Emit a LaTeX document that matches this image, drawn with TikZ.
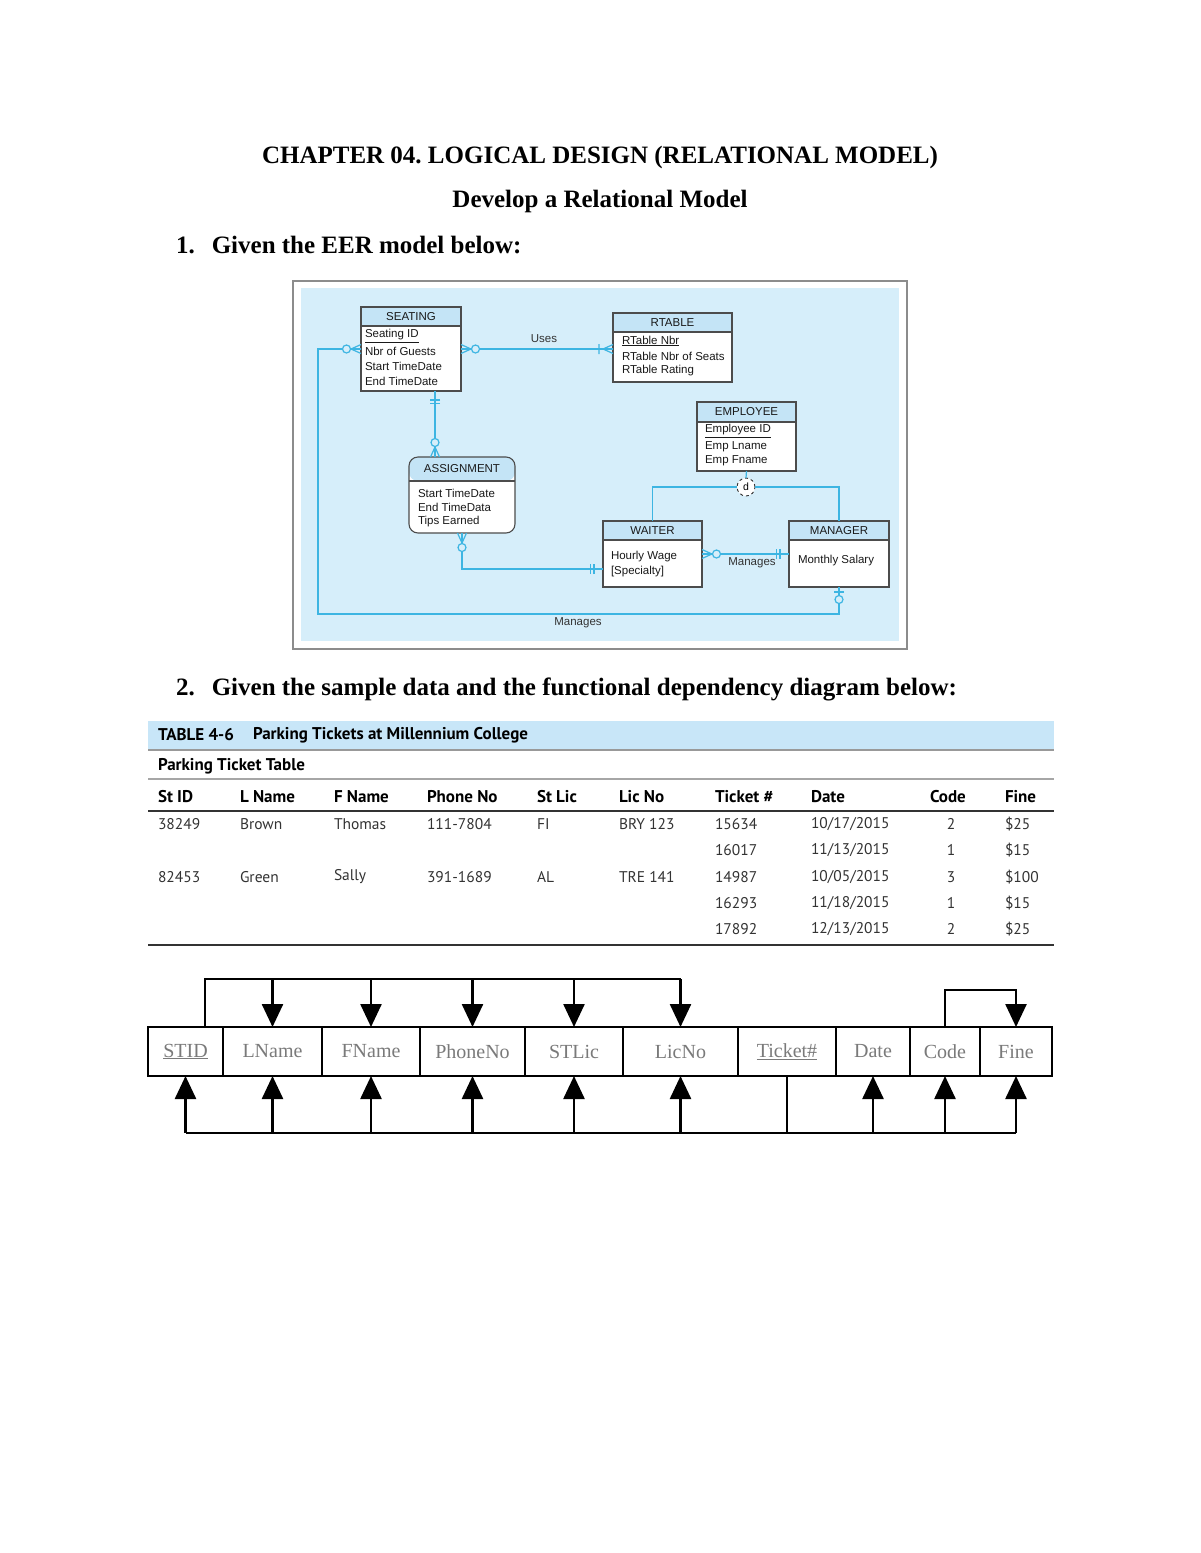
\documentclass[tikz,border=0pt]{standalone}
\usepackage{fontspec}
\setmainfont{Liberation Serif}
\newfontfamily\eerfont{Liberation Sans}
\newfontfamily\tblfont{PT Sans}
\usetikzlibrary{arrows.meta,calc}
\definecolor{eerbg}{HTML}{D6EEFA}
\definecolor{eerhd}{HTML}{C4E4F6}
\definecolor{eerln}{HTML}{3DB5E2}
\definecolor{tblhd}{HTML}{C8E6F8}
\definecolor{fdtxt}{HTML}{7A7A7A}
\frenchspacing
\begin{document}
\begin{tikzpicture}[x=1pt,y=-1pt,
  every node/.style={inner sep=0pt,outer sep=0pt},
  heading/.style={font=\fontsize{25}{30}\selectfont\bfseries},
  entbox/.style={draw=black!70,line width=1.1pt,fill=white,anchor=north west,
    path picture={\fill[eerhd] (path picture bounding box.north west) rectangle ([yshift=-#1]path picture bounding box.north east);}},
  hdrule/.style={draw=black!70,line width=1.1pt},
  enthd/.style={font=\eerfont\fontsize{11.5}{13}\selectfont,text=black!90},
  attr/.style={font=\eerfont\fontsize{11.5}{13}\selectfont,text=black!90,anchor=west},
  rel/.style={draw=eerln,line width=1.2pt},
  rellbl/.style={font=\eerfont\fontsize{11.5}{13}\selectfont,text=black!80},
  crowc/.pic={\draw[rel] (0,-4.5) -- (10,0) -- (0,4.5) (0,0) -- (10,0); \draw[rel,fill=eerbg] (14.5,0) circle[radius=4pt];},
  twobar/.pic={\draw[rel] (9,-5) -- (9,5) (12.5,-5) -- (12.5,5);},
  barc/.pic={\draw[rel] (5,-5) -- (5,5); \draw[rel,fill=eerbg] (12.5,0) circle[radius=4pt];},
  barcrow/.pic={\draw[rel] (0,-4.5) -- (10,0) -- (0,4.5) (0,0) -- (10,0) (14,-5) -- (14,5);},
  tb/.style={font=\tblfont\fontsize{15.5}{18}\selectfont,text=black!80,anchor=west},
  tbh/.style={font=\tblfont\fontsize{17}{20}\selectfont\bfseries,text=black,anchor=west},
  fdbox/.style={draw=black,line width=2.5pt,minimum height=49pt,font=\fontsize{20}{24}\selectfont,text=fdtxt},
  fdl/.style={draw=black,line width=2.5pt},
  fda/.style={draw=black,line width=2.5pt,-{Triangle[length=23pt,width=21pt]}}
]
\useasboundingbox (0,0) rectangle (1200,1553);
\fill[white] (0,0) rectangle (1200,1553);

% ---------- headings ----------
\node[heading] (title) at (600,157) {CHAPTER 04. LOGICAL DESIGN (RELATIONAL MODEL)};
\node[heading] (subtitle) at (600,201) {Develop a Relational Model};
\node[heading,anchor=west] (q1) at (176,245) {1.\hspace{17pt}Given the EER model below:};
\node[heading,anchor=west] (q2) at (176,689) {2.\hspace{17pt}Given the sample data and the functional dependency diagram below:};

% ---------- EER frame ----------
\draw[draw=black!45,line width=1.5pt,fill=white] (293,281) rectangle (907,649);
\fill[eerbg] (301,288) rectangle (899,641);

% SEATING
\node[entbox=19pt,minimum width=100pt,minimum height=84pt] (seating) at (361,307) {};
\draw[hdrule] ([yshift=-19pt]seating.north west) -- ([yshift=-19pt]seating.north east);
\node[enthd] (seatingT) at ($(seating.north)+(0,9.5)$) {SEATING};
\node[attr] (sa1) at (365,336) {\underline{Seating ID}};
\node[attr] (sa2) at (365,351) {Nbr of Guests};
\node[attr] (sa3) at (365,366) {Start TimeDate};
\node[attr] (sa4) at (365,381) {End TimeDate};

% RTABLE
\node[entbox=19pt,minimum width=119pt,minimum height=69pt] (rtable) at (613,313) {};
\draw[hdrule] ([yshift=-19pt]rtable.north west) -- ([yshift=-19pt]rtable.north east);
\node[enthd] (rtableT) at ($(rtable.north)+(0,9.5)$) {RTABLE};
\node[attr] (ra1) at (622,341) {\underline{RTable Nbr}};
\node[attr] (ra2) at (622,356) {RTable Nbr of Seats};
\node[attr] (ra3) at (622,371) {RTable Rating};

% EMPLOYEE
\node[entbox=20pt,minimum width=99pt,minimum height=69pt] (employee) at (697,402) {};
\draw[hdrule] ([yshift=-20pt]employee.north west) -- ([yshift=-20pt]employee.north east);
\node[enthd] (employeeT) at ($(employee.north)+(0,10)$) {EMPLOYEE};
\node[attr] (ea1) at (705,431) {\underline{Employee ID}};
\node[attr] (ea2) at (705,447) {Emp Lname};
\node[attr] (ea3) at (705,461) {Emp Fname};

% ASSIGNMENT
\node[entbox=24pt,rounded corners=9pt,minimum width=106pt,minimum height=76pt] (assignment) at (409,457) {};
\draw[hdrule] ([yshift=-24pt]assignment.north west) -- ([yshift=-24pt]assignment.north east);
\node[enthd] (assignmentT) at ($(assignment.north)+(0,12)$) {ASSIGNMENT};
\node[attr] (aa1) at (418,493) {Start TimeDate};
\node[attr] (aa2) at (418,507) {End TimeData};
\node[attr] (aa3) at (418,522) {Tips Earned};

% WAITER
\node[entbox=19pt,minimum width=99pt,minimum height=66pt] (waiter) at (603,521) {};
\draw[hdrule] ([yshift=-19pt]waiter.north west) -- ([yshift=-19pt]waiter.north east);
\node[enthd] (waiterT) at ($(waiter.north)+(0,9.5)$) {WAITER};
\node[attr] (wa1) at (611,557) {Hourly Wage};
\node[attr] (wa2) at (611,572) {[Specialty]};

% MANAGER
\node[entbox=19pt,minimum width=100pt,minimum height=66pt] (manager) at (789,521) {};
\draw[hdrule] ([yshift=-19pt]manager.north west) -- ([yshift=-19pt]manager.north east);
\node[enthd] (managerT) at ($(manager.north)+(0,9.5)$) {MANAGER};
\node[attr] (ma1) at (798,561) {Monthly Salary};

% disjoint circle
\node[circle,draw=black!80,dashed,line width=0.9pt,fill=white,minimum size=18pt,font=\eerfont\fontsize{10.5}{12}\selectfont] (disj) at (746,487) {d};

% relationships
\coordinate (asx) at (435,0);
\coordinate (awy) at (0,569);
\coordinate (mgl) at (318,614);
\draw[rel] (seating.east) -- (rtable.west |- seating.east);
\draw[rel] (seating.south -| asx) -- (assignment.north -| asx);
\draw[rel] (assignment.south) |- (waiter.west |- awy);
\draw[rel] (waiter.east) -- (manager.west |- waiter.east);
\draw[rel] (seating.west) -| (mgl) -| (manager.south);
\draw[rel] (employee.south) -- (disj.north);
\draw[rel] (disj.west) -| (waiter.north);
\draw[rel] (disj.east) -| (manager.north);

\pic at (seating.east) {crowc};
\pic[rotate=180] at (rtable.west |- seating.east) {barcrow};
\pic[rotate=-90] at (seating.south -| asx) {twobar};
\pic[rotate=90] at (assignment.north -| asx) {crowc};
\pic[rotate=-90] at (assignment.south) {crowc};
\pic[rotate=180] at (waiter.west |- awy) {twobar};
\pic at (waiter.east) {crowc};
\pic[rotate=180] at (manager.west |- waiter.east) {twobar};
\pic[rotate=180] at (seating.west) {crowc};
\pic[rotate=-90] at (manager.south) {barc};

\node[rellbl] (usesL) at (544,339) {Uses};
\node[rellbl] (mgr1L) at (752,563) {Manages};
\node[rellbl] (mgr2L) at (578,623) {Manages};

% ---------- table ----------
\fill[tblhd] (148,721) rectangle (1054,749);
\draw[black!40,line width=1.5pt] (148,750) -- (1054,750);
\draw[black!35,line width=1.2pt] (148,779) -- (1054,779);
\draw[black!80,line width=1.5pt] (148,811) -- (1054,811);
\draw[black!80,line width=2pt] (148,945) -- (1054,945);
\node[tbh] (tt1) at (158,735) {TABLE 4-6};
\node[tbh] (tt2) at (253,735) {Parking Tickets at Millennium College};
\node[tbh] (tt3) at (158,766) {Parking Ticket Table};
\foreach \x/\t [count=\i] in {158/St ID,240/L Name,334/F Name,427/Phone No,537/St Lic,619/Lic No,715/Ticket \#,811/Date,930/Code,1005/Fine}
  \node[tbh] (col\i) at (\x,797) {\t};
% row 1
\node[tb] (r1a) at (158,824) {38249};
\node[tb] (r1b) at (240,824) {Brown};
\node[tb] (r1c) at (334,824) {Thomas};
\node[tb] (r1d) at (427,824) {111-7804};
\node[tb] (r1e) at (537,824) {FI};
\node[tb] (r1f) at (619,824) {BRY 123};
\node[tb] (r1g) at (715,824) {15634};
\node[tb] (r1h) at (811,824) {10/17/2015};
\node[tb,anchor=center] (r1i) at (951,824) {2};
\node[tb] (r1j) at (1005,824) {\$25};
% row 2
\node[tb] (r2g) at (715,850) {16017};
\node[tb] (r2h) at (811,850) {11/13/2015};
\node[tb,anchor=center] (r2i) at (951,850) {1};
\node[tb] (r2j) at (1005,850) {\$15};
% row 3
\node[tb] (r3a) at (158,877) {82453};
\node[tb] (r3b) at (240,877) {Green};
\node[tb] (r3c) at (334,877) {Sally};
\node[tb] (r3d) at (427,877) {391-1689};
\node[tb] (r3e) at (537,877) {AL};
\node[tb] (r3f) at (619,877) {TRE 141};
\node[tb] (r3g) at (715,877) {14987};
\node[tb] (r3h) at (811,877) {10/05/2015};
\node[tb,anchor=center] (r3i) at (951,877) {3};
\node[tb] (r3j) at (1005,877) {\$100};
% row 4
\node[tb] (r4g) at (715,903) {16293};
\node[tb] (r4h) at (811,903) {11/18/2015};
\node[tb,anchor=center] (r4i) at (951,903) {1};
\node[tb] (r4j) at (1005,903) {\$15};
% row 5
\node[tb] (r5g) at (715,929) {17892};
\node[tb] (r5h) at (811,929) {12/13/2015};
\node[tb,anchor=center] (r5i) at (951,929) {2};
\node[tb] (r5j) at (1005,929) {\$25};

% ---------- functional dependency diagram ----------
\node[fdbox,minimum width=75pt] (stid) at (185.5,1051.5) {\underline{STID}};
\node[fdbox,minimum width=99pt] (lname) at (272.5,1051.5) {LName};
\node[fdbox,minimum width=98pt] (fname) at (371,1051.5) {FName};
\node[fdbox,minimum width=105pt] (phone) at (472.5,1051.5) {PhoneNo};
\node[fdbox,minimum width=98pt] (stlic) at (574,1051.5) {STLic};
\node[fdbox,minimum width=115pt] (licno) at (680.5,1051.5) {LicNo};
\node[fdbox,minimum width=98pt] (ticket) at (787,1051.5) {\underline{Ticket\#}};
\node[fdbox,minimum width=74pt] (date) at (873,1051.5) {Date};
\node[fdbox,minimum width=70pt] (code) at (945,1051.5) {Code};
\node[fdbox,minimum width=72pt] (fine) at (1016,1051.5) {Fine};

\coordinate (topL) at (205,979);
\coordinate (cfy) at (0,990);
\coordinate (botB) at (0,1133);
\draw[fdl] (stid.north -| topL) -- (topL) -- (licno.north |- topL);
\foreach \n in {lname,fname,phone,stlic,licno}
  \draw[fda] (\n.north |- topL) -- (\n.north);
\draw[fda] (code.north) |- (fine.north |- cfy) -- (fine.north);
\draw[fdl] (stid.south |- botB) -- (fine.south |- botB);
\draw[fdl] (ticket.south) -- (ticket.south |- botB);
\foreach \n in {stid,lname,fname,phone,stlic,licno,date,code,fine}
  \draw[fda] (\n.south |- botB) -- (\n.south);
\end{tikzpicture}
\end{document}
